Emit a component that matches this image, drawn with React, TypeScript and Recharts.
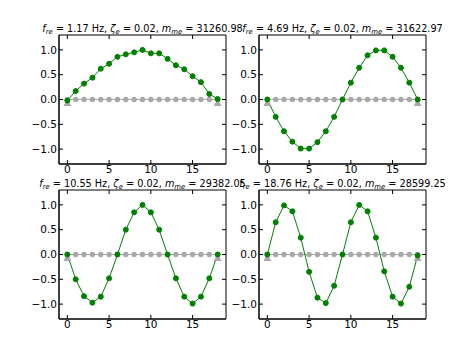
import { ComposedChart, Line, Scatter, XAxis, YAxis, ReferenceArea } from 'recharts';

const nodes = [0, 1, 2, 3, 4, 5, 6, 7, 8, 9, 10, 11, 12, 13, 14, 15, 16, 17, 18];

const mode1 = [-0.02, 0.17, 0.32, 0.44, 0.62, 0.72, 0.86, 0.91, 0.95, 1.0, 0.93, 0.93, 0.82, 0.69, 0.61, 0.47, 0.35, 0.11, 0.01];
const mode2 = [0, -0.35, -0.64, -0.85, -0.99, -0.99, -0.86, -0.64, -0.35, 0, 0.34, 0.64, 0.89, 0.99, 0.99, 0.86, 0.64, 0.34, 0];
const mode3 = [0, -0.5, -0.84, -0.97, -0.85, -0.48, 0, 0.5, 0.85, 1.0, 0.85, 0.5, 0, -0.48, -0.85, -0.99, -0.85, -0.48, 0];
const mode4 = [0, 0.65, 0.99, 0.87, 0.34, -0.35, -0.87, -0.98, -0.63, 0, 0.65, 1.0, 0.87, 0.34, -0.34, -0.85, -0.99, -0.65, -0.02];

const undeformed = [0, 0, 0, 0, 0, 0, 0, 0, 0, 0, 0, 0, 0, 0, 0, 0, 0, 0, 0];
const supportX = [0, 18];
const supportY = [-0.06, -0.06];

const freqs = ['1.17', '4.69', '10.55', '18.76'];
const dampings = ['0.02', '0.02', '0.02', '0.02'];
const masses = ['31260.98', '31622.97', '29382.05', '28599.25'];

const xTicks = [0, 5, 10, 15];
const yTicks = [-1, -0.5, 0, 0.5, 1];
const xDomain = [-1, 19];
const yDomain = [-1.3, 1.3];

const modes = [mode1, mode2, mode3, mode4];

const GREEN = '#008000';
const GREY = '#a8a8a8';
const FONT = 'DejaVu Sans';
const TICK_FS = 10.5;
const TITLE_FS = 9.7;
const SUB_FS = 6.9;

// plot-area corners (page pixels)
const PLOT_W = 167;
const PLOT_H = 129;
const plotLeft = [59, 259, 59, 259];
const plotTop = [35, 35, 190, 190];

const Y_AXIS_W = 50;
const X_AXIS_H = 22;
const M_TOP = 4;
const M_RIGHT = 4;
const TICK_LEN = 4;
const TICK_GAP = 6;

const fmt = (v: number) => v.toFixed(1).replace('-', '\u2212');

const Triangle = (props: any) => {
  const { cx, cy } = props;
  if (cx == null || cy == null) return null;
  return <polygon points={`${cx - 4},${cy + 3.5} ${cx + 4},${cy + 3.5} ${cx},${cy - 3.5}`} fill={GREY} />;
};

// bottom label + the matching inward tick on the top edge
const XTick = (props: any) => {
  const { x, y, payload } = props;
  const axisY = y - (TICK_GAP - TICK_LEN);
  const topY = axisY - PLOT_H;
  return (
    <g>
      <line x1={x} x2={x} y1={topY} y2={topY + TICK_LEN} stroke="#000" />
      <text x={x} y={y} dy="0.71em" textAnchor="middle" fontFamily={FONT} fontSize={TICK_FS} fill="#000">
        {payload.value}
      </text>
    </g>
  );
};

// left label + the matching inward tick on the right edge
const YTick = (props: any) => {
  const { x, y, payload } = props;
  const axisX = x + (TICK_GAP - TICK_LEN);
  const rightX = axisX + PLOT_W;
  return (
    <g>
      <line x1={rightX} x2={rightX - TICK_LEN} y1={y} y2={y} stroke="#000" />
      <text x={x} y={y} dy="0.355em" textAnchor="end" fontFamily={FONT} fontSize={TICK_FS} fill="#000">
        {fmt(payload.value)}
      </text>
    </g>
  );
};

function ModePanel({ idx }: { idx: number }) {
  const shape = nodes.map((x, i) => ({ x, y: modes[idx][i] }));
  const base = nodes.map((x, i) => ({ x, y: undeformed[i] }));
  const supports = supportX.map((x, i) => ({ x, y: supportY[i] }));

  return (
    <div
      style={{
        position: 'absolute',
        left: plotLeft[idx] - Y_AXIS_W,
        top: plotTop[idx] - M_TOP,
      }}
    >
      <ComposedChart
        width={Y_AXIS_W + PLOT_W + M_RIGHT}
        height={M_TOP + PLOT_H + X_AXIS_H}
        margin={{ top: M_TOP, right: M_RIGHT, bottom: 0, left: 0 }}
      >
        <XAxis
          type="number"
          dataKey="x"
          domain={xDomain}
          ticks={xTicks}
          height={X_AXIS_H}
          tickSize={-TICK_LEN}
          tickMargin={TICK_GAP}
          stroke="#000"
          tick={<XTick />}
          allowDataOverflow
        />
        <YAxis
          type="number"
          domain={yDomain}
          ticks={yTicks}
          width={Y_AXIS_W}
          tickSize={-TICK_LEN}
          tickMargin={TICK_GAP}
          stroke="#000"
          tick={<YTick />}
          allowDataOverflow
        />
        <ReferenceArea
          x1={xDomain[0]}
          x2={xDomain[1]}
          y1={yDomain[0]}
          y2={yDomain[1]}
          fill="none"
          stroke="#000"
          strokeWidth={1}
          ifOverflow="visible"
        />
        <Line
          data={base}
          dataKey="y"
          stroke={GREY}
          strokeWidth={1}
          dot={{ r: 2.7, fill: GREY, stroke: 'none' }}
          isAnimationActive={false}
        />
        <Scatter data={supports} dataKey="y" shape={Triangle} isAnimationActive={false} />
        <Line
          data={shape}
          dataKey="y"
          stroke={GREEN}
          strokeWidth={1}
          dot={{ r: 2.5, fill: GREEN, stroke: GREEN, strokeWidth: 1 }}
          isAnimationActive={false}
        />
      </ComposedChart>
    </div>
  );
}

function Title({ idx }: { idx: number }) {
  const cx = plotLeft[idx] + PLOT_W / 2;
  const cy = plotTop[idx] - 3.5;
  return (
    <text x={cx} y={cy} textAnchor="middle" fontFamily={FONT} fontSize={TITLE_FS} fill="#000">
      <tspan fontStyle="italic">f</tspan>
      <tspan fontStyle="italic" fontSize={SUB_FS} dy={2}>re</tspan>
      <tspan dy={-2}>{` = ${freqs[idx]} Hz, `}</tspan>
      <tspan fontStyle="italic">{'\u03b6'}</tspan>
      <tspan fontStyle="italic" fontSize={SUB_FS} dy={2}>e</tspan>
      <tspan dy={-2}>{` = ${dampings[idx]}, `}</tspan>
      <tspan fontStyle="italic">m</tspan>
      <tspan fontStyle="italic" fontSize={SUB_FS} dy={2}>me</tspan>
      <tspan dy={-2}>{` = ${masses[idx]}`}</tspan>
    </text>
  );
}

export default function App() {
  return (
    <div style={{ position: 'absolute', left: 0, top: 0, width: 474, height: 355, background: '#fff' }}>
      {[0, 1, 2, 3].map((i) => (
        <ModePanel key={i} idx={i} />
      ))}
      <svg
        width={474}
        height={355}
        style={{ position: 'absolute', left: 0, top: 0, pointerEvents: 'none' }}
      >
        {[0, 1, 2, 3].map((i) => (
          <Title key={i} idx={i} />
        ))}
      </svg>
    </div>
  );
}
